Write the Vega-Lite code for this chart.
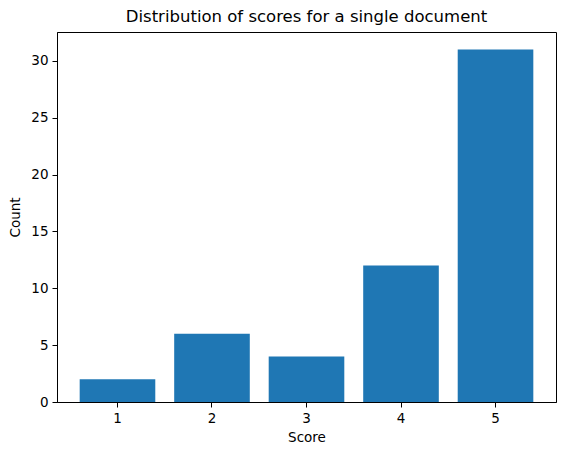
{
  "$schema": "https://vega.github.io/schema/vega-lite/v6.json",
  "autosize": "none",
  "width": 499,
  "height": 370,
  "padding": {"left": 57, "top": 32, "right": 6, "bottom": 53},
  "background": "white",
  "title": {
    "text": "Distribution of scores for a single document",
    "font": "DejaVu Sans",
    "fontSize": 16.5,
    "fontWeight": "normal",
    "color": "black",
    "offset": 7
  },
  "data": {
    "values": [
      {"Score": "1", "Count": 2},
      {"Score": "2", "Count": 6},
      {"Score": "3", "Count": 4},
      {"Score": "4", "Count": 12},
      {"Score": "5", "Count": 31}
    ]
  },
  "config": {
    "view": {"stroke": "black", "strokeWidth": 1},
    "axis": {
      "labelFont": "DejaVu Sans",
      "labelFontSize": 13.5,
      "labelColor": "black",
      "titleFont": "DejaVu Sans",
      "titleFontSize": 13.5,
      "titleFontWeight": "normal",
      "titleColor": "black",
      "domainColor": "black",
      "tickColor": "black",
      "tickSize": 5,
      "grid": false
    }
  },
  "mark": {"type": "bar", "color": "#1f77b4"},
  "encoding": {
    "x": {
      "field": "Score",
      "type": "ordinal",
      "scale": {"paddingInner": 0.2, "paddingOuter": 0.24},
      "axis": {"labelAngle": 0, "labelPadding": 4, "titlePadding": 6}
    },
    "y": {
      "field": "Count",
      "type": "quantitative",
      "scale": {"domain": [0, 32.55], "nice": false},
      "axis": {"values": [0, 5, 10, 15, 20, 25, 30], "labelPadding": 4, "titlePadding": 8}
    }
  }
}
